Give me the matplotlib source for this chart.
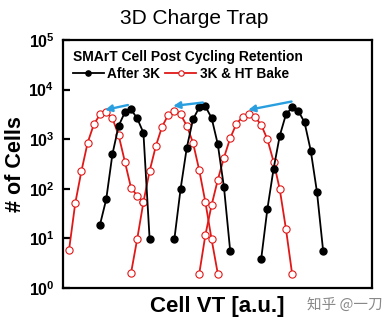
import matplotlib.pyplot as plt
import numpy as np

plt.rcParams['font.family'] = ['Liberation Sans', 'DejaVu Sans']

# log10(# of cells), on a common VT step grid
blk1_x = list(range(5, 14))
blk1_y = [1.28, 1.79, 2.70, 3.27, 3.54, 3.60, 3.42, 3.13, 0.99]
blk2_x = list(range(17, 27))
blk2_y = [0.99, 2.00, 2.83, 3.40, 3.64, 3.66, 3.43, 2.90, 2.03, 0.75]
blk3_x = list(range(31, 42))
blk3_y = [0.58, 1.59, 2.40, 3.07, 3.50, 3.64, 3.57, 3.34, 2.77, 1.94, 0.75]

red1_x = list(range(0, 13))
red1_y = [0.77, 1.71, 2.36, 2.93, 3.30, 3.50, 3.54, 3.42, 3.08, 2.55, 2.02, 1.86, 1.73]
red2_x = list(range(10, 25))
red2_y = [0.30, 0.99, 1.73, 2.36, 2.86, 3.25, 3.49, 3.57, 3.50, 3.27, 2.93, 2.38, 1.73, 0.98, 0.29]
red3_x = list(range(21, 37))
red3_y = [0.28, 1.07, 1.67, 2.18, 2.63, 3.02, 3.31, 3.45, 3.50, 3.45, 3.29, 3.00, 2.55, 1.99, 1.19, 0.28]

# shift arrows (start x, start log y, end x, end log y)
arrows = [(9.5, 3.69, 5.8, 3.59), (21.6, 3.74, 16.8, 3.67), (35.9, 3.76, 28.9, 3.59)]

fig = plt.figure(figsize=(3.88, 3.31), dpi=100)
ax = fig.add_axes([0.162, 0.130, 0.797, 0.749])

red = '#e01818'
for i, (x, y) in enumerate([(red1_x, red1_y), (red2_x, red2_y), (red3_x, red3_y)]):
    ax.plot(x, 10 ** np.array(y), '-o', color=red, lw=1.3, ms=5.2,
            mfc='white', mec=red, mew=0.8, label='3K & HT Bake' if i == 0 else None)
for i, (x, y) in enumerate([(blk1_x, blk1_y), (blk2_x, blk2_y), (blk3_x, blk3_y)]):
    ax.plot(x, 10 ** np.array(y), '-o', color='black', lw=1.3, ms=5,
            label='After 3K' if i == 0 else None)

for x0, y0, x1, y1 in arrows:
    ax.annotate('', xy=(x1, 10 ** y1), xytext=(x0, 10 ** y0),
                arrowprops=dict(arrowstyle='-|>', color='#2a9fe0', lw=1.7,
                                mutation_scale=10, shrinkA=0, shrinkB=0))

ax.set_yscale('log')
ax.set_ylim(1, 1e5)
ax.set_xlim(-1.0, 48.9)
ax.set_xticks([])
ax.yaxis.set_minor_locator(plt.NullLocator())
ax.set_yticks([1, 10, 100, 1e3, 1e4, 1e5])
ax.tick_params(axis='y', direction='in', length=5, width=1.6, labelsize=11.5, pad=6)
for lab in ax.get_yticklabels():
    lab.set_fontweight('bold')
for s in ax.spines.values():
    s.set_linewidth(1.6)

h, l = ax.get_legend_handles_labels()
leg = ax.legend([h[1], h[0]], [l[1], l[0]], ncol=2, loc='upper left', frameon=False,
                title='SMArT Cell Post Cycling Retention', alignment='left',
                prop={'weight': 'bold', 'size': 9.8}, handlelength=2.3,
                handletextpad=0.25, columnspacing=0.35, borderaxespad=0.42,
                borderpad=0.3, labelspacing=0.2, markerscale=0.75)
leg.get_title().set_fontweight('bold')
leg.get_title().set_fontsize(10)

ax.set_ylabel('# of Cells', fontsize=15.5, fontweight='bold', labelpad=2)
ax.set_xlabel('Cell VT [a.u.]', fontsize=16, fontweight='bold', labelpad=6)
fig.text(0.5, 0.945, '3D Charge Trap', ha='center', va='center', fontsize=15)
fig.text(0.985, 0.078, '知乎 @一刀', ha='right', va='center', fontsize=10.5, color='#888888',
         family=['Noto Sans CJK SC', 'DejaVu Sans'])

fig.savefig('out.png', dpi=100)
